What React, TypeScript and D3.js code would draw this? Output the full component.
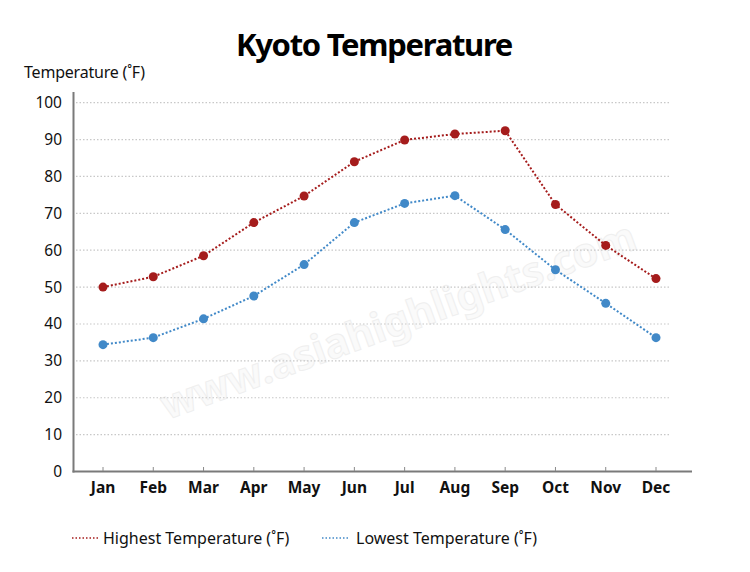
import { useEffect, useRef } from "react";
import * as d3 from "d3";

const months = ["Jan", "Feb", "Mar", "Apr", "May", "Jun", "Jul", "Aug", "Sep", "Oct", "Nov", "Dec"];
const highTemps = [50, 52.8, 58.5, 67.5, 74.7, 84, 89.9, 91.5, 92.4, 72.4, 61.3, 52.3];
const lowTemps = [34.4, 36.3, 41.4, 47.6, 56.1, 67.5, 72.7, 74.8, 65.6, 54.7, 45.6, 36.3];
const yTicks = [0, 10, 20, 30, 40, 50, 60, 70, 80, 90, 100];
const seriesNames = ["Highest Temperature (˚F)", "Lowest Temperature (˚F)"];

const FONT = "'Noto Sans', 'Open Sans', sans-serif";

export default function App() {
  const ref = useRef<SVGSVGElement>(null);

  useEffect(() => {
    const width = 750;
    const height = 572;
    const svg = d3.select(ref.current).attr("width", width).attr("height", height);
    svg.selectAll("*").remove();

    svg.append("rect").attr("width", width).attr("height", height).attr("fill", "#fff");

    const x = d3.scalePoint<string>().domain(months).range([103, 656]);
    const y = d3.scaleLinear().domain([0, 100]).range([471.5, 102.7]);

    // watermark
    svg
      .append("text")
      .attr("transform", "translate(403,334) rotate(-20)")
      .attr("text-anchor", "middle")
      .attr("font-family", FONT)
      .attr("font-weight", 700)
      .attr("font-size", 41)
      .attr("fill", "#fafafa")
      .attr("stroke", "#efefef")
      .attr("stroke-width", 1)
      .text("www.asiahighlights.com");

    // title
    svg
      .append("text")
      .attr("x", 374)
      .attr("y", 56)
      .attr("text-anchor", "middle")
      .attr("font-family", FONT)
      .attr("font-weight", 700)
      .attr("font-size", 31)
      .attr("letter-spacing", -1.3)
      .attr("fill", "#000")
      .text("Kyoto Temperature");

    svg
      .append("text")
      .attr("x", 24)
      .attr("y", 78)
      .attr("font-family", FONT)
      .attr("font-size", 16)
      .attr("letter-spacing", -0.2)
      .attr("fill", "#111")
      .text("Temperature (˚F)");

    // gridlines
    svg
      .append("g")
      .selectAll("line")
      .data(yTicks.filter((d) => d > 0))
      .join("line")
      .attr("x1", 76)
      .attr("x2", 669)
      .attr("y1", (d) => y(d))
      .attr("y2", (d) => y(d))
      .attr("stroke", "#c8c8c8")
      .attr("stroke-width", 1.2)
      .attr("stroke-dasharray", "1.5,2");

    // y tick labels
    svg
      .append("g")
      .selectAll("text")
      .data(yTicks)
      .join("text")
      .attr("x", 62)
      .attr("y", (d) => y(d))
      .attr("dy", "0.35em")
      .attr("text-anchor", "end")
      .attr("font-family", FONT)
      .attr("font-size", 15.5)
      .attr("fill", "#111")
      .text((d) => d);

    // axes
    svg
      .append("line")
      .attr("x1", 73.5)
      .attr("x2", 73.5)
      .attr("y1", 92)
      .attr("y2", 472.5)
      .attr("stroke", "#7a7a7a")
      .attr("stroke-width", 2);
    svg
      .append("line")
      .attr("x1", 72.5)
      .attr("x2", 692)
      .attr("y1", 471.5)
      .attr("y2", 471.5)
      .attr("stroke", "#7a7a7a")
      .attr("stroke-width", 2);

    svg
      .append("g")
      .selectAll("line")
      .data(months)
      .join("line")
      .attr("x1", (d) => x(d)!)
      .attr("x2", (d) => x(d)!)
      .attr("y1", 467)
      .attr("y2", 471)
      .attr("stroke", "#8a8a8a")
      .attr("stroke-width", 1);

    svg
      .append("g")
      .selectAll("text")
      .data(months)
      .join("text")
      .attr("x", (d) => x(d)!)
      .attr("y", 493)
      .attr("text-anchor", "middle")
      .attr("font-family", FONT)
      .attr("font-weight", 700)
      .attr("font-size", 15.5)
      .attr("fill", "#111")
      .text((d) => d);

    const series = [
      { values: highTemps, color: "#a51c1c" },
      { values: lowTemps, color: "#4189c8" },
    ];

    const line = d3
      .line<number>()
      .x((_, i) => x(months[i])!)
      .y((d) => y(d));

    series.forEach((s) => {
      svg
        .append("path")
        .attr("d", line(s.values))
        .attr("fill", "none")
        .attr("stroke", s.color)
        .attr("stroke-width", 2)
        .attr("stroke-dasharray", "2,2");
      svg
        .append("g")
        .selectAll("circle")
        .data(s.values)
        .join("circle")
        .attr("cx", (_, i) => x(months[i])!)
        .attr("cy", (d) => y(d))
        .attr("r", 4.5)
        .attr("fill", s.color);
    });

    // legend
    const legendX = [72, 322];
    series.forEach((s, i) => {
      const g = svg.append("g").attr("transform", `translate(${legendX[i]},538)`);
      g.append("line")
        .attr("x1", 0)
        .attr("x2", 26)
        .attr("y1", 0)
        .attr("y2", 0)
        .attr("stroke", s.color)
        .attr("stroke-width", 1.5)
        .attr("stroke-dasharray", "1.5,2");
      g.append("text")
        .attr("x", i === 0 ? 31 : 34)
        .attr("y", 0)
        .attr("dy", "0.35em")
        .attr("font-family", FONT)
        .attr("font-size", 16)
        .attr("fill", "#111")
        .text(seriesNames[i]);
    });
  }, []);

  return (
    <div style={{ margin: -8 }}>
      <svg ref={ref} style={{ display: "block" }} />
    </div>
  );
}
